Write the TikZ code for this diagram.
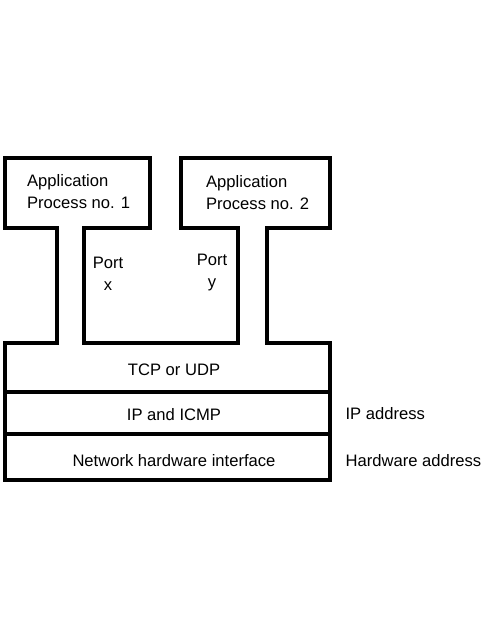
\documentclass[tikz,border=0pt]{standalone}
\usepackage{fontspec}
\setmainfont{Liberation Sans}
\begin{document}
\begin{tikzpicture}[x=1pt,y=-1pt,line width=3.2pt,
        lbl/.style={inner sep=0pt,font=\fontsize{16.6}{22}\selectfont}]
            \useasboundingbox (0,0) rectangle (480,640);
            % outline of both processes and the stack
            \draw[line join=miter]
                (5,158) -- (150,158) -- (150,228) -- (84,228) -- (84,343)
                -- (238,343) -- (238,228) -- (181,228) -- (181,158)
                -- (330,158) -- (330,228) -- (267,228) -- (267,343)
                -- (330,343) -- (330,480) -- (5,480) -- (5,343)
                -- (57,343) -- (57,228) -- (5,228) -- cycle;
            \coordinate (ipL) at (5,392);
            \coordinate (ipR) at (330,392);
            \coordinate (hwL) at (5,434);
            \coordinate (hwR) at (330,434);
            \draw (ipL) -- (ipR);
            \draw (hwL) -- (hwR);
            \node[lbl,anchor=north west,align=left](app1) at (25.5,173) {Application\\Process no. 1};
            \node[lbl,anchor=north west,align=left](app2) at (204.5,174) {Application\\Process no. 2};
            \node[lbl,anchor=north,align=center](portx)   at (108,255) {Port\\x};
            \node[lbl,anchor=north,align=center](porty)   at (212,252) {Port\\y};
            \node[lbl,anchor=base](tcp)                   at (174,375) {TCP or UDP};
            \node[lbl,anchor=base](ip)                    at (174,420) {IP and ICMP};
            \node[lbl,anchor=base](hw)                    at (174,466) {Network hardware interface};
            \node[lbl,anchor=base west](ipaddr)           at (344,419) {IP address};
            \node[lbl,anchor=base west](hwaddr)           at (344,466) {Hardware address};
        \end{tikzpicture}
\end{document}
